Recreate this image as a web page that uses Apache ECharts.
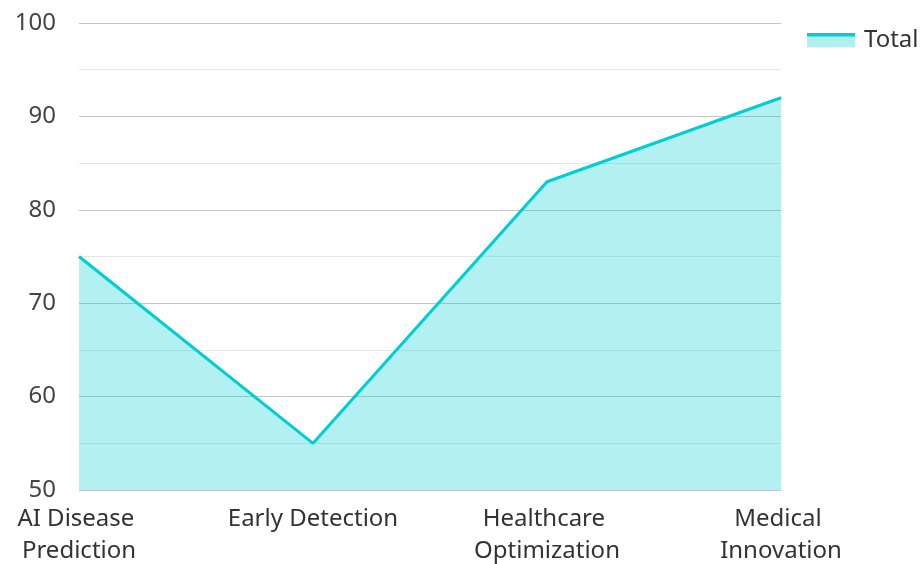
<!DOCTYPE html>
<html lang="en">
<head>
    <meta charset="UTF-8">
    <title>Total</title>
    <script src="https://cdn.jsdelivr.net/npm/echarts@6/dist/echarts.min.js"></script>
    <style>
        html, body { margin: 0; padding: 0; background: #fff; }
        #chart { width: 922px; height: 564px; }
    </style>
</head>
<body>
<div id="chart"></div>
<script>
    var categories = ['AI Disease Prediction', 'Early Detection', 'Healthcare Optimization', 'Medical Innovation'];
    var totalValues = [75, 55, 83, 92];
    var seriesName = 'Total';

    // legend icon: line on top of the light area, like the original
    var legendIcon = 'image://data:image/svg+xml;utf8,' + encodeURIComponent(
        '<svg xmlns="http://www.w3.org/2000/svg" width="48" height="15">' +
        '<rect x="0" y="3" width="48" height="12" fill="#b2f0f0"/>' +
        '<rect x="0" y="0" width="48" height="4" fill="#00CED1"/></svg>');

    var myChart = echarts.init(document.getElementById('chart'));
    var option = {
        textStyle: { fontFamily: 'Noto Sans' },
        legend: {
            left: 802,
            top: 23,
            icon: legendIcon,
            itemWidth: 48,
            itemHeight: 15,
            itemGap: 10,
            textStyle: { fontSize: 24, color: '#333', fontFamily: 'Noto Sans', padding: [0, 0, 0, 4] },
            data: [seriesName]
        },
        grid: { left: 79, right: 141, top: 23, bottom: 74, containLabel: false, outerBoundsMode: 'none' },
        xAxis: {
            type: 'category',
            boundaryGap: false,
            data: categories,
            axisLine: { show: false },
            axisTick: { show: false },
            axisLabel: {
                fontSize: 24,
                color: '#333',
                lineHeight: 32,
                margin: 13,
                width: 200,
                overflow: 'break',
                interval: 0,
                hideOverlap: false
            }
        },
        yAxis: {
            type: 'value',
            min: 50,
            max: 100,
            interval: 10,
            axisLine: { show: false },
            axisTick: { show: false },
            axisLabel: { fontSize: 24, color: '#444', margin: 23 },
            splitLine: { lineStyle: { color: '#c4c4c4', width: 1 } },
            minorTick: { show: false, splitNumber: 2 },
            minorSplitLine: { show: true, lineStyle: { color: '#e6e6e6', width: 1 } }
        },
        series: [{
            name: seriesName,
            type: 'line',
            data: totalValues,
            symbol: 'none',
            lineStyle: { color: '#00CED1', width: 3 },
            itemStyle: { color: '#00CED1' },
            areaStyle: { color: '#00CED1', opacity: 0.3 }
        }]
    };
    myChart.setOption(option);
</script>
</body>
</html>
